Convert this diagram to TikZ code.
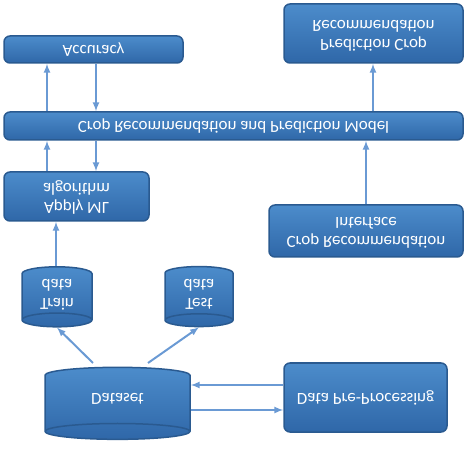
\documentclass[tikz,border=0pt]{standalone}
\usepackage{graphicx}
\usepackage{fontspec}
\setmainfont{Carlito}
\usetikzlibrary{arrows,shapes.geometric}

\definecolor{boxtop}{HTML}{4C8CCB}
\definecolor{boxbot}{HTML}{2F67A8}
\definecolor{boxline}{HTML}{2A5A90}
\definecolor{arrowblue}{HTML}{6A9AD4}

% the whole chart is upside down, so every label is turned over
\newcommand{\flipped}[1]{\scalebox{1}[-1]{#1}}

\begin{document}
\begin{tikzpicture}[x=1pt,y=-1pt,
  box/.style={draw=boxline,line width=1.5pt,rounded corners=6pt,
    top color=boxtop,bottom color=boxbot,text=white,
    font=\fontsize{17}{19}\selectfont,align=center,inner sep=0},
  store/.style={box,cylinder,shape border rotate=270,aspect=0.3,rounded corners=0pt},
  arr/.style={draw=arrowblue,line width=2pt,-latex}]
\useasboundingbox (0,0) rectangle (474,454);

\node[box,minimum width=179,minimum height=27] (acc) at (93.5,49.5) {\flipped{Accuracy}};
\node[box,minimum width=179,minimum height=59] (pcr) at (373.5,33.5)
  {\flipped{\begin{tabular}{c}Prediction Crop\\Recommendation\end{tabular}}};
\node[box,minimum width=459,minimum height=28] (model) at (233.5,126)
  {\flipped{Crop Recommendation and Prediction Model}};
\node[box,minimum width=145,minimum height=49] (ml) at (76.5,196.5)
  {\flipped{\begin{tabular}{c}Apply ML\\algorithm\end{tabular}}};
\node[box,minimum width=194,minimum height=52] (intf) at (366,231)
  {\flipped{\begin{tabular}{c}Crop Recommendation\\Interface\end{tabular}}};
\node[store,minimum width=70,minimum height=60] (train) at (57,293)
  {\flipped{\begin{tabular}{c}Train\\data\end{tabular}}};
\node[store,minimum width=68,minimum height=60] (test) at (199,293)
  {\flipped{\begin{tabular}{c}Test\\data\end{tabular}}};
\node[store,minimum width=145,minimum height=72] (data) at (117.5,399) {\flipped{Dataset}};
\node[box,minimum width=163,minimum height=69] (pre) at (365.5,397.5)
  {\flipped{Data Pre-Processing}};

\coordinate (l1) at (47,0);
\coordinate (l2) at (96,0);
\coordinate (l3) at (373,0);
\coordinate (l4) at (366,0);
\coordinate (l5) at (56,0);
\coordinate (r1) at (0,385);
\coordinate (r2) at (0,410);

\draw[arr] (l1 |- model.north) -- (l1 |- acc.south);
\draw[arr] (l2 |- acc.south) -- (l2 |- model.north);
\draw[arr] (l3 |- model.north) -- (l3 |- pcr.south);
\draw[arr] (l1 |- ml.north) -- (l1 |- model.south);
\draw[arr] (l2 |- model.south) -- (l2 |- ml.north);
\draw[arr] (l4 |- intf.north) -- (l4 |- model.south);
\draw[arr] (l5 |- train.north) -- (l5 |- ml.south);
\draw[arr] (93,363) coordinate (d1) -- (train.south);
\draw[arr] (148,363) coordinate (d2) -- (test.south);
\draw[arr] (r1 -| pre.west) -- (r1 -| data.east);
\draw[arr] (r2 -| data.east) -- (r2 -| pre.west);

\end{tikzpicture}
\end{document}
